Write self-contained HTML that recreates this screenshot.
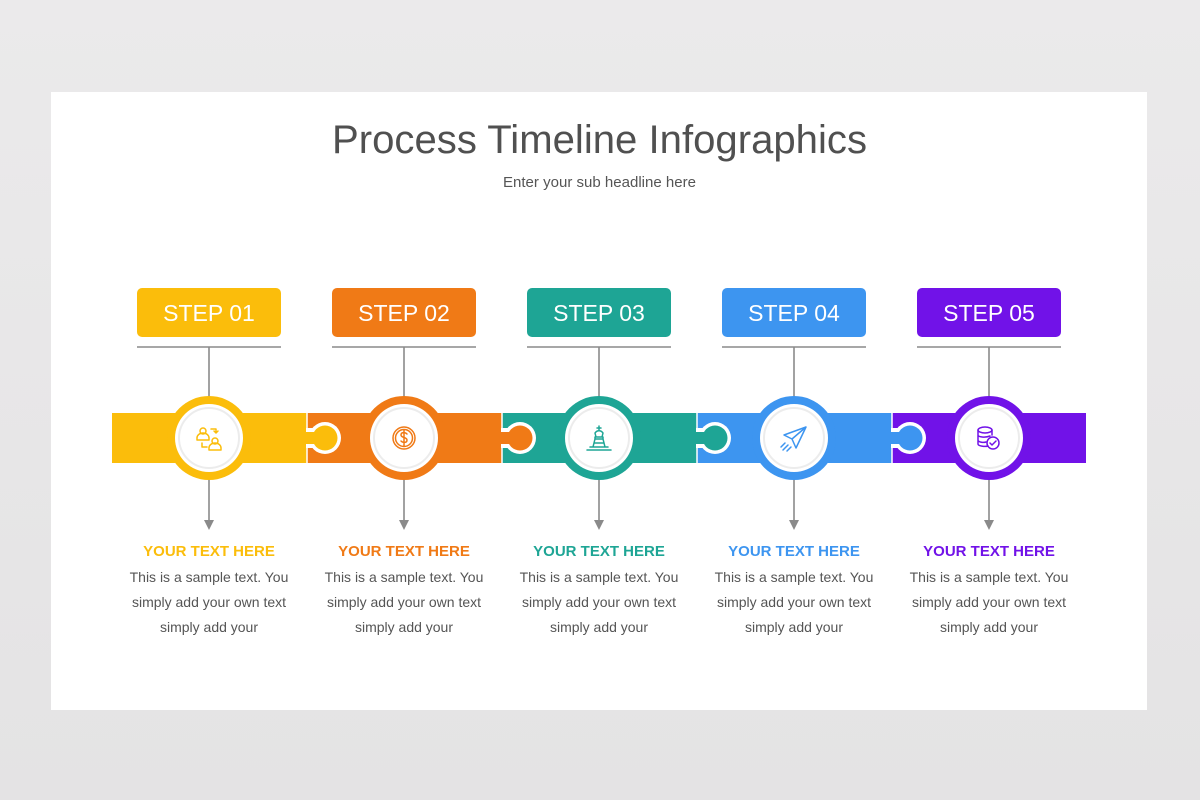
<!DOCTYPE html>
<html><head><meta charset="utf-8"><style>
html,body{margin:0;padding:0;background:#e8e7e8;}
svg{display:block;font-family:"Liberation Sans",Arial,sans-serif;}
</style></head><body>
<svg width="1200" height="800" viewBox="0 0 1200 800" xmlns="http://www.w3.org/2000/svg">
<defs>
<linearGradient id="bg" x1="0" y1="0" x2="0" y2="1"><stop offset="0" stop-color="#ebeaeb"/><stop offset="1" stop-color="#e4e3e4"/></linearGradient>
</defs>
<rect width="1200" height="800" fill="url(#bg)"/>
<rect x="51" y="92" width="1096" height="618" fill="#fff"/>
<text x="599.5" y="153" text-anchor="middle" font-size="40" fill="#505050" textLength="535" lengthAdjust="spacingAndGlyphs">Process Timeline Infographics</text>
<text x="599.5" y="187" text-anchor="middle" font-size="15" fill="#555" textLength="193" lengthAdjust="spacingAndGlyphs">Enter your sub headline here</text>

<!-- bar segments -->
<rect x="112" y="413" width="195" height="50" fill="#FBBD0B"/>
<rect x="307" y="413" width="195" height="50" fill="#F07A16"/>
<rect x="502" y="413" width="195" height="50" fill="#1EA595"/>
<rect x="697" y="413" width="195" height="50" fill="#3D95F0"/>
<rect x="892" y="413" width="194" height="50" fill="#7112E8"/>
<!-- thin white separators -->
<g stroke="#fff" stroke-width="1.5">
<line x1="307" y1="413" x2="307" y2="463"/><line x1="502" y1="413" x2="502" y2="463"/><line x1="697" y1="413" x2="697" y2="463"/><line x1="892" y1="413" x2="892" y2="463"/>
</g>
<!-- knobs -->
<g>
<rect x="306" y="428" width="12" height="20" fill="#fff"/><circle cx="325" cy="438" r="16" fill="#fff"/><rect x="306" y="432" width="14" height="12" fill="#FBBD0B"/><circle cx="325" cy="438" r="12.5" fill="#FBBD0B"/>
<rect x="501" y="428" width="12" height="20" fill="#fff"/><circle cx="520" cy="438" r="16" fill="#fff"/><rect x="501" y="432" width="14" height="12" fill="#F07A16"/><circle cx="520" cy="438" r="12.5" fill="#F07A16"/>
<rect x="696" y="428" width="12" height="20" fill="#fff"/><circle cx="715" cy="438" r="16" fill="#fff"/><rect x="696" y="432" width="14" height="12" fill="#1EA595"/><circle cx="715" cy="438" r="12.5" fill="#1EA595"/>
<rect x="891" y="428" width="12" height="20" fill="#fff"/><circle cx="910" cy="438" r="16" fill="#fff"/><rect x="891" y="432" width="14" height="12" fill="#3D95F0"/><circle cx="910" cy="438" r="12.5" fill="#3D95F0"/>
</g>

<!-- steps -->
<g stroke="#8a8a8a" stroke-width="1.6" fill="none">
<line x1="137" y1="347" x2="281" y2="347"/><line x1="332" y1="347" x2="476" y2="347"/><line x1="527" y1="347" x2="671" y2="347"/><line x1="722" y1="347" x2="866" y2="347"/><line x1="917" y1="347" x2="1061" y2="347"/>
<line x1="209" y1="347" x2="209" y2="398"/><line x1="404" y1="347" x2="404" y2="398"/><line x1="599" y1="347" x2="599" y2="398"/><line x1="794" y1="347" x2="794" y2="398"/><line x1="989" y1="347" x2="989" y2="398"/>
<line x1="209" y1="478" x2="209" y2="524"/><line x1="404" y1="478" x2="404" y2="524"/><line x1="599" y1="478" x2="599" y2="524"/><line x1="794" y1="478" x2="794" y2="524"/><line x1="989" y1="478" x2="989" y2="524"/>
</g>
<g fill="#8a8a8a">
<path d="M204 520 L214 520 L209 530Z"/><path d="M399 520 L409 520 L404 530Z"/><path d="M594 520 L604 520 L599 530Z"/><path d="M789 520 L799 520 L794 530Z"/><path d="M984 520 L994 520 L989 530Z"/>
</g>

<g font-size="23" fill="#fff" text-anchor="middle">
<rect x="137" y="288" width="144" height="49" rx="5" fill="#FBBD0B"/><text x="209" y="321">STEP 01</text>
<rect x="332" y="288" width="144" height="49" rx="5" fill="#F07A16"/><text x="404" y="321">STEP 02</text>
<rect x="527" y="288" width="144" height="49" rx="5" fill="#1EA595"/><text x="599" y="321">STEP 03</text>
<rect x="722" y="288" width="144" height="49" rx="5" fill="#3D95F0"/><text x="794" y="321">STEP 04</text>
<rect x="917" y="288" width="144" height="49" rx="5" fill="#7112E8"/><text x="989" y="321">STEP 05</text>
</g>

<!-- circles -->
<g>
<circle cx="209" cy="438" r="42" fill="#FBBD0B"/><circle cx="209" cy="438" r="34" fill="#fff"/><circle cx="209" cy="438" r="30" fill="none" stroke="#ececec" stroke-width="2"/>
<circle cx="404" cy="438" r="42" fill="#F07A16"/><circle cx="404" cy="438" r="34" fill="#fff"/><circle cx="404" cy="438" r="30" fill="none" stroke="#ececec" stroke-width="2"/>
<circle cx="599" cy="438" r="42" fill="#1EA595"/><circle cx="599" cy="438" r="34" fill="#fff"/><circle cx="599" cy="438" r="30" fill="none" stroke="#ececec" stroke-width="2"/>
<circle cx="794" cy="438" r="42" fill="#3D95F0"/><circle cx="794" cy="438" r="34" fill="#fff"/><circle cx="794" cy="438" r="30" fill="none" stroke="#ececec" stroke-width="2"/>
<circle cx="989" cy="438" r="42" fill="#7112E8"/><circle cx="989" cy="438" r="34" fill="#fff"/><circle cx="989" cy="438" r="30" fill="none" stroke="#ececec" stroke-width="2"/>
</g>
<!-- icons -->
<g fill="none" stroke-width="1.5" stroke-linecap="round" stroke-linejoin="round">
<g stroke="#FBBD0B">
<circle cx="203" cy="431" r="3"/><path d="M197 440 v-2 a6 5 0 0 1 12 0 v2z"/>
<circle cx="215" cy="441" r="3"/><path d="M209 450 v-2 a6 5 0 0 1 12 0 v2z"/>
<path d="M211 429 h5 v4 M214 431 l2 2 2-2"/><path d="M207 447 h-5 v-4"/>
</g>
<g stroke="#F07A16"><circle cx="404" cy="438" r="11"/><circle cx="404" cy="438" r="8.5"/><path d="M407 434 c-2-2 -6-2 -6 1 c0 3 6 2 6 5 c0 3 -4 3 -6 1 M404 430v16"/></g>
<g stroke="#1EA595"><path d="M587 450 h24 M590 447 h18 M593 447 l2-8 h8 l2 8 M595 439 v-2 h8 v2 M596 437 l-1-4 c2-3 6-3 8 0 l-1 4 M599 426 v4 M597 428 h4 M594 443 h10"/></g>
<g stroke="#3D95F0"><path d="M806 427 l-22 8 8 4 4 9z M806 427 l-14 12 M788 445 l-5 5 M791 447 l-4 4 M785 443 l-4 4"/></g>
<g stroke="#7112E8"><ellipse cx="985" cy="430" rx="7" ry="3"/><path d="M978 430 v14 c0 2 7 3 10 2 M978 435 c0 2 7 3 12 1 M978 440 c0 2 5 3 8 2 M992 430 v5"/><circle cx="993" cy="443" r="6"/><path d="M990 443 l2 2 4-4"/></g>
</g>

<!-- texts -->
<g font-size="15" font-weight="bold" text-anchor="middle">
<text x="209" y="556" fill="#FBBD0B">YOUR TEXT HERE</text>
<text x="404" y="556" fill="#F07A16">YOUR TEXT HERE</text>
<text x="599" y="556" fill="#1EA595">YOUR TEXT HERE</text>
<text x="794" y="556" fill="#3D95F0">YOUR TEXT HERE</text>
<text x="989" y="556" fill="#7112E8">YOUR TEXT HERE</text>
</g>
<g font-size="14" fill="#555" text-anchor="middle">
<text x="209" y="582">This is a sample text. You</text><text x="209" y="607">simply add your own text</text><text x="209" y="632">simply add your</text>
<text x="404" y="582">This is a sample text. You</text><text x="404" y="607">simply add your own text</text><text x="404" y="632">simply add your</text>
<text x="599" y="582">This is a sample text. You</text><text x="599" y="607">simply add your own text</text><text x="599" y="632">simply add your</text>
<text x="794" y="582">This is a sample text. You</text><text x="794" y="607">simply add your own text</text><text x="794" y="632">simply add your</text>
<text x="989" y="582">This is a sample text. You</text><text x="989" y="607">simply add your own text</text><text x="989" y="632">simply add your</text>
</g>
</svg>
</body></html>
